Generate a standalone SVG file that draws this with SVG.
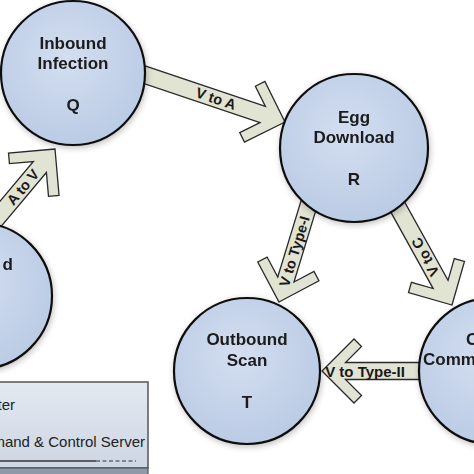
<svg xmlns="http://www.w3.org/2000/svg" width="474" height="474" viewBox="0 0 474 474">
<style>
.node{fill:url(#cg);stroke:#111;stroke-width:2.2}
.lbl{font-family:"Liberation Sans",Arial,sans-serif;font-weight:bold;font-size:17px;fill:#1a1a1a;text-anchor:middle}
.arr{fill:#e1e3d3;stroke:#2a2a2a;stroke-width:1.3;stroke-linejoin:miter}
.atxt{font-family:"Liberation Sans",Arial,sans-serif;font-weight:bold;font-size:14.5px;fill:#1a1a1a;text-anchor:middle}
.leg{font-family:"Liberation Sans",Arial,sans-serif;font-size:15px;fill:#222}
</style>
<defs>
<radialGradient id="cg" cx="0.45" cy="0.4" r="0.65">
<stop offset="0" stop-color="#d3def0"/>
<stop offset="1" stop-color="#b9cae4"/>
</radialGradient>
<linearGradient id="lg" x1="0" y1="0" x2="0" y2="1">
<stop offset="0" stop-color="#e4e9f1"/>
<stop offset="1" stop-color="#cdd6e3"/>
</linearGradient>
<filter id="sh" x="-20%" y="-20%" width="140%" height="140%">
<feGaussianBlur in="SourceAlpha" stdDeviation="3"/>
<feOffset dx="1" dy="2"/>
<feComponentTransfer><feFuncA type="linear" slope="0.25"/></feComponentTransfer>
<feMerge><feMergeNode/><feMergeNode in="SourceGraphic"/></feMerge>
</filter>
</defs>
<rect width="474" height="474" fill="#ffffff"/>

<g id="connectors">
<g transform="translate(285,122) rotate(18.6)">
<path class="arr" d="M0,0 L-32,-32 L-39.5,-24.5 L-23.5,-8.5 L-160,-8.5 L-160,8.5 L-23.5,8.5 L-39.5,24.5 L-32,32 Z"/>
<text class="atxt" x="-73" y="5">V to A</text>
</g>
<g transform="translate(55,149) rotate(-50)">
<path class="arr" d="M0,0 L-33,-33 L-40.5,-25.5 L-23.5,-8.5 L-110,-8.5 L-110,8.5 L-23.5,8.5 L-40.5,25.5 L-33,33 Z"/>
<text class="atxt" x="-50" y="5">A to V</text>
</g>
<g transform="translate(279,302) rotate(107)">
<path class="arr" d="M0,0 L-32,-32 L-39.5,-24.5 L-23.5,-8.5 L-110,-8.5 L-110,8.5 L-23.5,8.5 L-39.5,24.5 L-32,32 Z"/>
<text class="atxt" transform="translate(-53,0) rotate(180)" y="5">V to Type-I</text>
</g>
<g transform="translate(452,305) rotate(61)">
<path class="arr" d="M0,0 L-32,-32 L-39.5,-24.5 L-23.5,-8.5 L-120,-8.5 L-120,8.5 L-23.5,8.5 L-39.5,24.5 L-32,32 Z"/>
<text class="atxt" transform="translate(-55,0) rotate(180)" y="5">V to C</text>
</g>
<g transform="translate(322,371) rotate(180)">
<path class="arr" d="M0,0 L-32,-32 L-39.5,-24.5 L-23.5,-8.5 L-110,-8.5 L-110,8.5 L-23.5,8.5 L-39.5,24.5 L-32,32 Z"/>
<text class="atxt" transform="translate(-43,0) rotate(180)" y="5.5" style="font-size:15px">V to Type-II</text>
</g>
</g>

<g id="node-P" filter="url(#sh)">
<circle class="node" cx="-21" cy="296" r="73"/>
<text class="lbl" x="13" y="270" style="text-anchor:end">d</text>
</g>
<g id="node-Q" filter="url(#sh)">
<circle class="node" cx="73" cy="73" r="72"/>
<text class="lbl" x="73" y="49">Inbound</text>
<text class="lbl" x="73" y="69">Infection</text>
<text class="lbl" x="73" y="111">Q</text>
</g>
<g id="node-R" filter="url(#sh)">
<circle class="node" cx="354" cy="148" r="74"/>
<text class="lbl" x="354" y="123">Egg</text>
<text class="lbl" x="354" y="143">Download</text>
<text class="lbl" x="354" y="185">R</text>
</g>
<g id="node-T" filter="url(#sh)">
<circle class="node" cx="247" cy="371" r="73"/>
<text class="lbl" x="247" y="345">Outbound</text>
<text class="lbl" x="247" y="366">Scan</text>
<text class="lbl" x="247" y="408">T</text>
</g>
<g id="node-S" filter="url(#sh)">
<circle class="node" cx="492" cy="371" r="73"/>
<text class="lbl" x="466" y="345" style="text-anchor:start">C</text>
<text class="lbl" x="423" y="365" style="text-anchor:start">Comm</text>
</g>

<g id="legend">
<rect x="-5" y="382" width="153" height="86" fill="url(#lg)" stroke="#555" stroke-width="1.5"/>
<rect x="-5" y="468" width="153" height="10" fill="#8e9aab" stroke="#555" stroke-width="1.2"/>
<text class="leg" x="15" y="410" style="text-anchor:end">ter</text>
<text class="leg" x="145" y="447" style="text-anchor:end">mand &amp; Control Server</text>
<line x1="0" y1="461" x2="96" y2="461" stroke="#333" stroke-width="1.5"/>
<line x1="96" y1="461" x2="136" y2="461" stroke="#333" stroke-width="1.2" stroke-dasharray="4,2.5"/>
</g>
</svg>
